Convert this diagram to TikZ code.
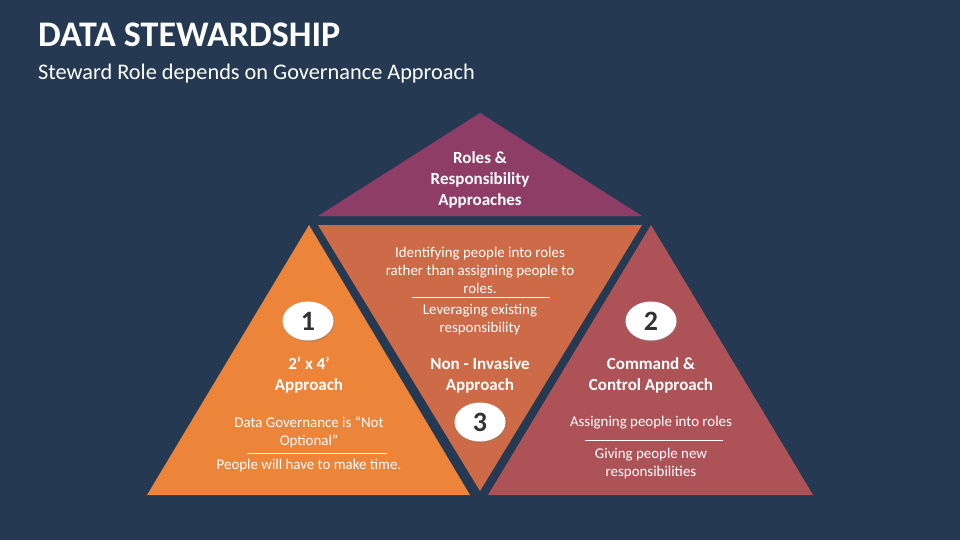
\documentclass[tikz,border=0pt]{standalone}
\usepackage{fontspec}
\setmainfont{Carlito}
\usetikzlibrary{shadows,shapes.geometric}
\definecolor{bg}{HTML}{253A52}
\definecolor{topc}{HTML}{8E3D67}
\definecolor{leftc}{HTML}{EC843A}
\definecolor{midc}{HTML}{CD6B48}
\definecolor{rightc}{HTML}{AD5358}
\definecolor{numc}{HTML}{333333}
\tikzset{
  body/.style={text=white, align=center, font=\fontsize{14.9}{18}\selectfont, inner sep=0pt},
  head/.style={text=white, align=center, font=\bfseries\fontsize{17}{21}\selectfont, inner sep=0pt},
  numbox/.style={ellipse, fill=white, minimum width=51pt, minimum height=39pt, inner sep=0pt,
     text=numc, font=\bfseries\fontsize{28}{28}\selectfont,
     drop shadow={shadow xshift=1pt, shadow yshift=-1.5pt, opacity=0.35}},
  sep/.style={white, line width=0.8pt}
}
\begin{document}
\begin{tikzpicture}[x=1pt,y=-1pt]
\fill[bg] (0,0) rectangle (960,540);
\useasboundingbox (0,0) rectangle (960,540);
% titles
\node[anchor=base west, inner sep=0pt, text=white, font=\bfseries\fontsize{36}{36}\selectfont] (title) at (38,47) {DATA STEWARDSHIP};
\node[anchor=base west, inner sep=0pt, text=white, font=\fontsize{22.3}{22}\selectfont] (sub) at (38,80) {Steward Role depends on Governance Approach};
% triangles
\fill[topc] (480,113) -- (642,216) -- (318,216) -- cycle;
\fill[leftc] (309,225) -- (470,495) -- (147,495) -- cycle;
\fill[midc] (318,225) -- (642,225) -- (480,491) -- cycle;
\fill[rightc] (651,225) -- (813,495) -- (488,495) -- cycle;
% top text
\node[head] (toptxt) at (480,180) {Roles \&\\Responsibility\\Approaches};
% left
\node[numbox] (n1) at (308,321) {1};
\node[head] (lhead) at (309,375) {2’ x 4’\\Approach};
\node[body] (l1) at (309,432) {Data Governance is “Not\\Optional”};
\draw[sep] (247,453) -- (387,453);
\node[body] (l2) at (309,466) {People will have to make time.};
% middle
\node[body] (m1) at (480,270) {Identifying people into roles\\rather than assigning people to\\roles.};
\draw[sep] (412,297) -- (550,297);
\node[body] (m2) at (480,320) {Leveraging existing\\responsibility};
\node[head] (mhead) at (480,375) {Non - Invasive\\Approach};
\node[numbox] (n3) at (480,422) {3};
% right
\node[numbox] (n2) at (651,321) {2};
\node[head] (rhead) at (651,375) {Command \&\\Control Approach};
\node[body] (r1) at (651,423) {Assigning people into roles};
\draw[sep] (585,440) -- (723,440);
\node[body] (r2) at (651,464) {Giving people new\\responsibilities};
\end{tikzpicture}
\end{document}
